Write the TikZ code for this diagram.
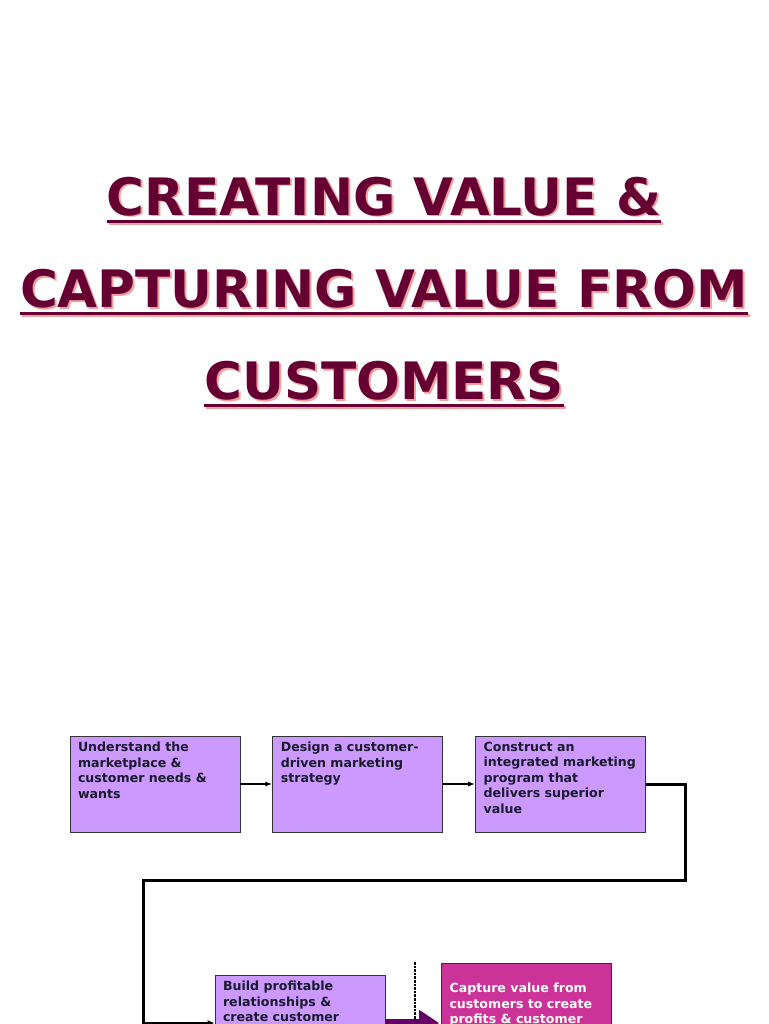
\documentclass[tikz,border=0pt]{standalone}
\usepackage{fontspec}
\setmainfont{DejaVu Sans}
\usepackage{xcolor}
\usetikzlibrary{positioning,arrows.meta}

\definecolor{lavender}{HTML}{CC99FF}
\definecolor{capture}{HTML}{CC3399}
\definecolor{maroon}{HTML}{660033}
\definecolor{titleshadow}{HTML}{F0A0A0}
\definecolor{deeppurple}{HTML}{660066}
\definecolor{boxline}{HTML}{333333}
\definecolor{boxtextcol}{HTML}{1A1A2E}

\newcommand{\boxtext}[2]{\parbox[c][#1][t]{154pt}{\raggedright #2}}

\begin{document}
\begin{tikzpicture}[x=1pt, y=-1pt,
  title/.style={anchor=base, inner sep=0pt, text depth=0pt, font=\fontsize{51.6}{60}\selectfont\bfseries},
  ulmain/.style={maroon, line width=3pt},
  ulshadow/.style={titleshadow, line width=3pt},
  stepbox/.style={draw=boxline, line width=0.8pt, fill=lavender, text=boxtextcol, inner xsep=8pt, inner ysep=6pt, font=\fontsize{12.6}{15.5}\selectfont\bfseries},
  capturebox/.style={stepbox, fill=capture, text=white, inner ysep=20pt},
  arr/.style={-{Latex[length=7pt,width=5pt]}, line width=1.3pt},
  loopline/.style={-{Latex[length=7pt,width=6pt]}, line width=3pt},
  divider/.style={densely dotted, line width=2.6pt},
  bigarrow/.style={-{Triangle[length=20pt,width=25pt]}, deeppurple, line width=8pt, shorten >=2pt}
]
\clip (0,0) rectangle (768,1024);

% title with shadow
\node[title, titleshadow] (t1s) at (386,217) {CREATING VALUE \&};
\node[title, titleshadow] (t2s) at (386,309) {CAPTURING VALUE FROM};
\node[title, titleshadow] (t3s) at (386,401) {CUSTOMERS};
\draw[ulshadow] ([yshift=-6pt]t1s.south west) -- ([yshift=-6pt]t1s.south east);
\draw[ulshadow] ([yshift=-6pt]t2s.south west) -- ([yshift=-6pt]t2s.south east);
\draw[ulshadow] ([yshift=-6pt]t3s.south west) -- ([yshift=-6pt]t3s.south east);
\node[title, maroon] (t1) at (384,215) {CREATING VALUE \&};
\node[title, maroon] (t2) at (384,307) {CAPTURING VALUE FROM};
\node[title, maroon] (t3) at (384,399) {CUSTOMERS};
\draw[ulmain] ([yshift=-6pt]t1.south west) -- ([yshift=-6pt]t1.south east);
\draw[ulmain] ([yshift=-6pt]t2.south west) -- ([yshift=-6pt]t2.south east);
\draw[ulmain] ([yshift=-6pt]t3.south west) -- ([yshift=-6pt]t3.south east);

% top row
\node[stepbox] (market) at (155,784) {\boxtext{84pt}{Understand the\\marketplace \&\\customer needs \&\\wants}};
\node[stepbox, right=32pt of market] (strategy) {\boxtext{84pt}{Design a customer-\\driven marketing\\strategy}};
\node[stepbox, right=32pt of strategy] (program) {\boxtext{84pt}{Construct an\\integrated marketing\\program that\\delivers superior\\value}};

% bottom row
\node[stepbox] (relations) at (300,1023) {\boxtext{84pt}{Build profitable\\relationships \&\\create customer}};
\node[capturebox] (capturevalue) at (526.5,1023) {\boxtext{80pt}{Capture value from\\customers to create\\profits \& customer}};

\coordinate (bendR) at (685,880);
\coordinate (bendL) at (143,880);
\coordinate (dotTop) at (415,962);
\coordinate (dotBot) at (415,1030);

\draw[arr] (market) -- (strategy);
\draw[arr] (strategy) -- (program);
\draw[loopline] (program.east) -| (bendR) -- (bendL) |- (relations.west);
\draw[divider] (dotTop) -- (dotBot);
\draw[bigarrow] (relations.east) -- (capturevalue.west);

\end{tikzpicture}
\end{document}
